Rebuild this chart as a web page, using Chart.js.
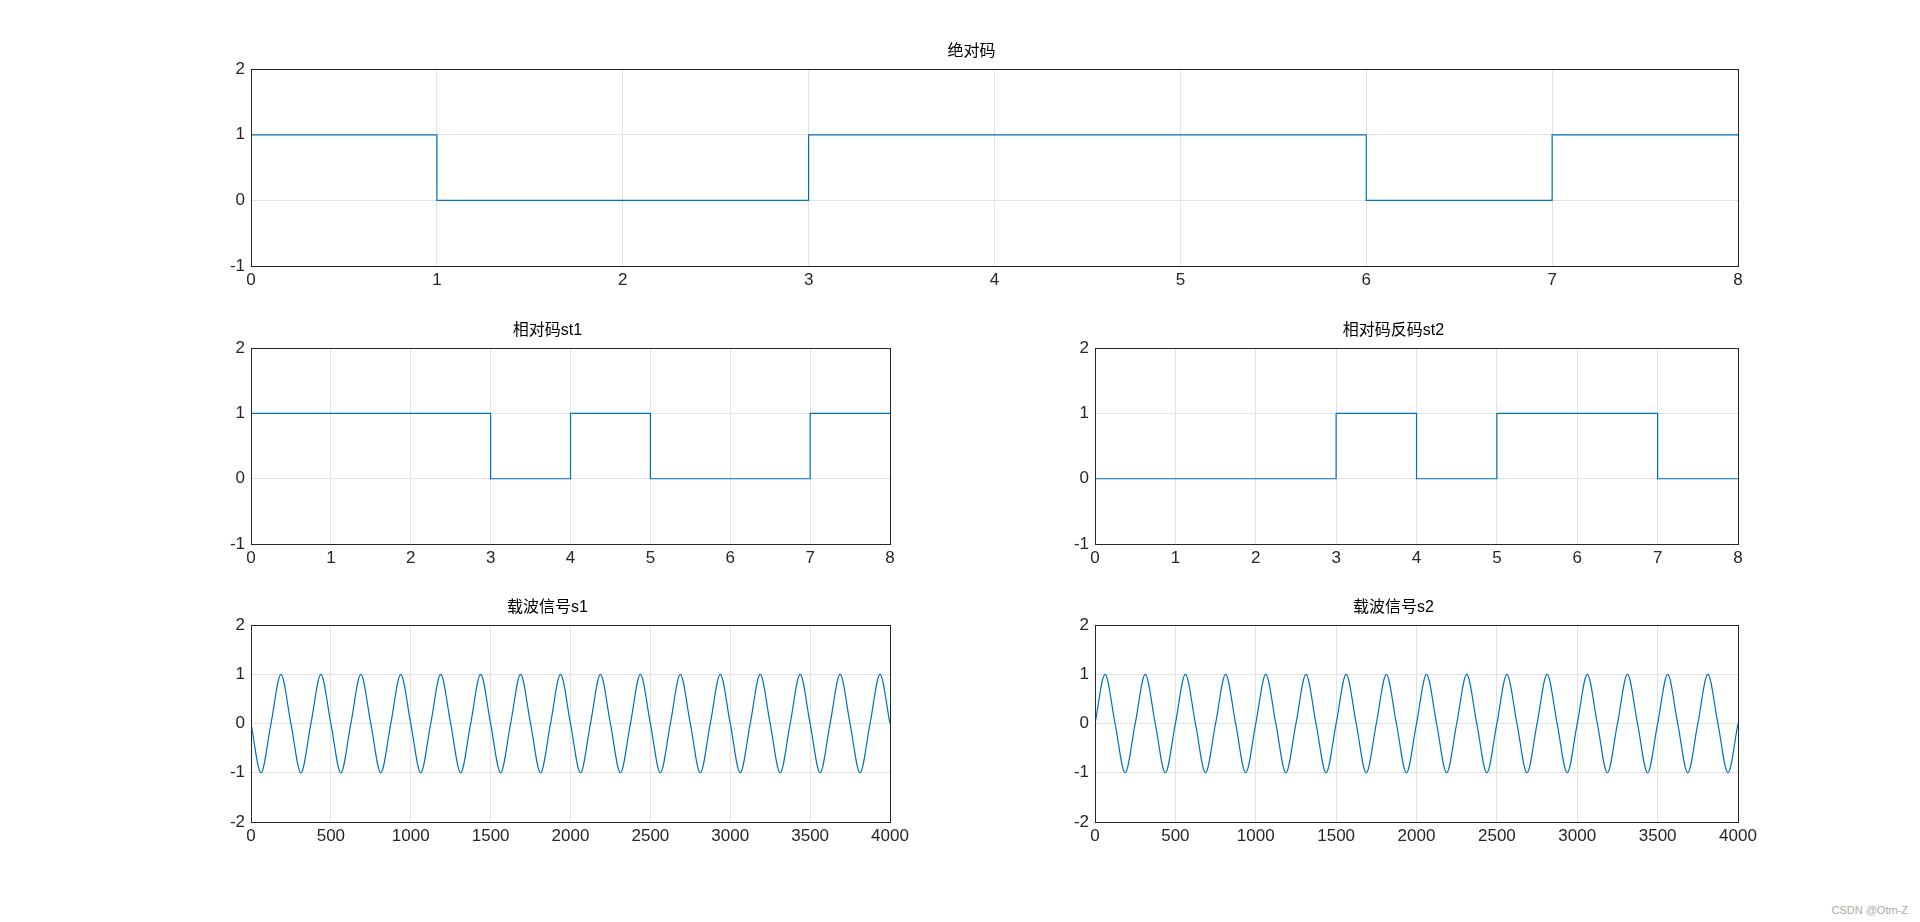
<!DOCTYPE html>
<html><head><meta charset="utf-8">
<script src="https://cdn.jsdelivr.net/npm/chart.js@4"></script>
<style>
body{margin:0;background:#fff;width:1920px;height:922px;position:relative;overflow:hidden}
.c{position:absolute}
#wm{position:absolute;right:12px;bottom:6px;font:11px "Liberation Sans";color:#aaa}
</style></head><body>
<div class="c" id="p1"><canvas id="c1"></canvas></div>
<div class="c" id="p2"><canvas id="c2"></canvas></div>
<div class="c" id="p3"><canvas id="c3"></canvas></div>
<div class="c" id="p4"><canvas id="c4"></canvas></div>
<div class="c" id="p5"><canvas id="c5"></canvas></div>
<div id="wm">CSDN @Otm-Z</div>
<script>
const titles = ["绝对码","相对码st1","相对码反码st2","载波信号s1","载波信号s2"];
const absCode = [1,0,0,1,1,1,0,1];
const st1 = [1,1,1,0,1,0,0,1];
const st2 = [0,0,0,1,0,1,1,0];
const carrierStep = 62.5;
const s1 = [0,-1,0,1, 0,-1,0,1, 0,-1,0,1, 0,-1,0,1, 0,-1,0,1, 0,-1,0,1, 0,-1,0,1, 0,-1,0,1,
            0,-1,0,1, 0,-1,0,1, 0,-1,0,1, 0,-1,0,1, 0,-1,0,1, 0,-1,0,1, 0,-1,0,1, 0,-1,0,1, 0];
const s2 = [0,1,0,-1, 0,1,0,-1, 0,1,0,-1, 0,1,0,-1, 0,1,0,-1, 0,1,0,-1, 0,1,0,-1, 0,1,0,-1,
            0,1,0,-1, 0,1,0,-1, 0,1,0,-1, 0,1,0,-1, 0,1,0,-1, 0,1,0,-1, 0,1,0,-1, 0,1,0,-1, 0];

const L=46, T=28, B=34, R=30;
const boxes = [
 {id:1,x:251,y:70,w:1487,h:196},
 {id:2,x:251,y:349,w:639,h:195},
 {id:3,x:1095,y:349,w:643,h:195},
 {id:4,x:251,y:626,w:639,h:196},
 {id:5,x:1095,y:626,w:643,h:196}
];
const FONT = '"Liberation Sans","Noto Sans CJK SC",sans-serif';
const frame = {id:'frame', afterDraw(ch){const a=ch.chartArea,c=ch.ctx;c.save();c.strokeStyle='#262626';c.lineWidth=1;
  c.strokeRect(Math.round(a.left)+0.5,Math.round(a.top)+0.5,Math.round(a.right-a.left),Math.round(a.bottom-a.top));c.restore();}};

function stepData(bits){const d=bits.map((v,i)=>({x:i,y:v}));d.push({x:bits.length,y:bits[bits.length-1]});return d;}
function waveData(v){return v.map((y,i)=>({x:i*carrierStep,y}));}

function make(i,data,xmax,xstep,ymin,ystep,smooth){
  const b=boxes[i];
  const div=document.getElementById('p'+b.id);
  div.style.left=(b.x-L)+'px';div.style.top=(b.y-T)+'px';
  div.style.width=(b.w+L+R)+'px';div.style.height=(b.h+T+B)+'px';
  new Chart(document.getElementById('c'+b.id),{
    type:'line',
    data:{datasets:[{data,borderColor:'#0072BD',borderWidth:1.2,pointRadius:0,
      stepped: smooth?false:'before', cubicInterpolationMode: smooth?'monotone':'default'}]},
    options:{responsive:true,maintainAspectRatio:false,animation:false,
      layout:{padding:{left:0,right:R,top:0,bottom:0}},
      plugins:{legend:{display:false},tooltip:{enabled:false},
        title:{display:true,text:titles[i],color:'#000',font:{family:FONT,size:16,weight:'normal'},padding:{top:0,bottom:8}}},
      scales:{
        x:{type:'linear',min:0,max:xmax,afterFit(s){s.height=B;},
          ticks:{stepSize:xstep,color:'#262626',font:{family:FONT,size:17},padding:4,maxRotation:0,callback:v=>String(v)},
          grid:{color:'#e3e3e3',drawTicks:false},border:{display:false}},
        y:{min:ymin,max:2,afterFit(s){s.width=L;},
          ticks:{stepSize:ystep,color:'#262626',font:{family:FONT,size:17},padding:6},
          grid:{color:'#e3e3e3',drawTicks:false},border:{display:false}}
      }},
    plugins:[frame]
  });
}
make(0,stepData(absCode),8,1,-1,1,false);
make(1,stepData(st1),8,1,-1,1,false);
make(2,stepData(st2),8,1,-1,1,false);
make(3,waveData(s1),4000,500,-2,1,true);
make(4,waveData(s2),4000,500,-2,1,true);
</script></body></html>
